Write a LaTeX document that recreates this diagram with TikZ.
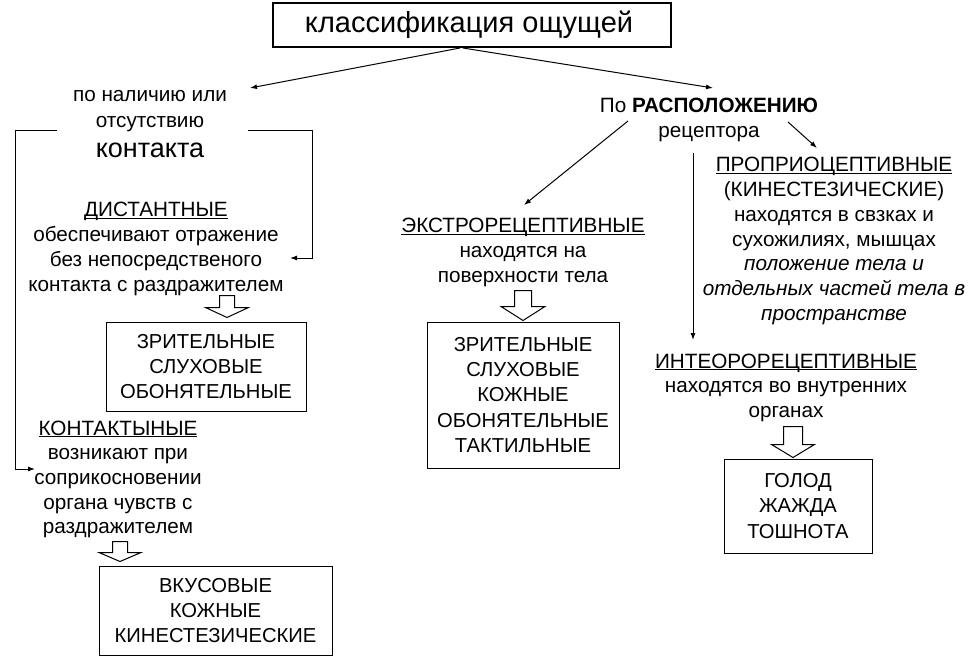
\documentclass[tikz,border=0pt]{standalone}
\usepackage{fontspec}
\setmainfont{Liberation Sans}
\usetikzlibrary{arrows.meta,calc}
\newcommand\ulin[1]{\setbox0\hbox{#1}\rlap{\rule[-2.3pt]{\wd0}{1pt}}\box0}
\newcommand\blk[1]{\begin{tabular}[t]{@{}c@{}}#1\end{tabular}}
\tikzset{
  txt/.style={font=\fontsize{20.7}{24.7}\selectfont, inner sep=0pt, anchor=base},
  boxed/.style={draw, line width=1pt, inner sep=0pt, align=center, font=\fontsize{20.2}{25.3}\selectfont},
  conn/.style={line width=1pt, -{Latex[length=7pt,width=5pt]}},
  pics/hollowarrow/.style n args={4}{code={
    \draw[line width=1pt, fill=white] (0,0) -- (-#4,-#2) -- (-#3,-#2) -- (-#3,-#2-#1)
      -- (#3,-#2-#1) -- (#3,-#2) -- (#4,-#2) -- cycle;
  }}
}
\begin{document}
\begin{tikzpicture}[x=1pt,y=-1pt]
\useasboundingbox[fill=white] (0,0) rectangle (970,658);
% title
\node[draw, line width=2pt, minimum width=398pt, minimum height=44pt, inner sep=0pt,
      font=\fontsize{29}{30}\selectfont] (title) at (472,25) {классификация ощущей\hspace*{6pt}};
% left branch
\node[txt] (contact) at (150,102) {\blk{по наличию или\\[1pt] отсутствию\\[5pt] {\fontsize{27}{30}\selectfont контакта}}};
\node[txt] (dist) at (156,217) {\blk{\ulin{ДИСТАНТНЫЕ}\\ обеспечивают отражение\\ без непосредственого\\ контакта с раздражителем}};
\node[boxed, minimum width=200pt, minimum height=89pt] (box1) at (206,366.5) {ЗРИТЕЛЬНЫЕ\\СЛУХОВЫЕ\\ОБОНЯТЕЛЬНЫЕ};
\node[txt] (kontakt) at (118,435) {\blk{\ulin{КОНТАКТЫНЫЕ}\\ возникают при\\ соприкосновении\\ органа чувств с\\ раздражителем}};
\node[boxed, minimum width=233pt, minimum height=89pt] (box2) at (215.5,610.5) {ВКУСОВЫЕ\\КОЖНЫЕ\\КИНЕСТЕЗИЧЕСКИЕ};
% right branch
\node[txt] (raspol) at (709,113) {\blk{По \textbf{РАСПОЛОЖЕНИЮ}\\ рецептора}};
\node[txt] (ekstro) at (523,233) {\blk{\ulin{ЭКСТРОРЕЦЕПТИВНЫЕ}\\ находятся на\\ поверхности тела}};
\node[boxed, minimum width=192pt, minimum height=146pt] (box3) at (523,395) {ЗРИТЕЛЬНЫЕ\\СЛУХОВЫЕ\\КОЖНЫЕ\\ОБОНЯТЕЛЬНЫЕ\\ТАКТИЛЬНЫЕ};
\node[txt] (proprio) at (834,172) {\blk{\ulin{ПРОПРИОЦЕПТИВНЫЕ}\\ (КИНЕСТЕЗИЧЕСКИЕ)\\ находятся в свзках и\\ сухожилиях, мышцах\\ \textit{положение тела и}\\ \textit{отдельных частей тела в}\\ \textit{пространстве}}};
\node[txt] (intero) at (786,368) {\blk{\ulin{ИНТЕОРОРЕЦЕПТИВНЫЕ}\\ находятся во внутренних\\ органах}};
\node[boxed, minimum width=148pt, minimum height=94pt] (box4) at (798,506) {ГОЛОД\\ЖАЖДА\\ТОШНОТА};
% connector ends
\coordinate (a1) at (250,88);
\coordinate (a2) at (713,88);
\coordinate (r1) at (628,121);
\coordinate (e1) at (524,205);
\coordinate (r2) at (788,122);
\coordinate (p1) at (817,148);
\coordinate (r3) at (693,153);
\coordinate (i1) at (693,340);
\coordinate (bl0) at (57,131);
\coordinate (bl1) at (15,469);
\coordinate (bl2) at (35,469);
\coordinate (br0) at (248,131);
\coordinate (br1) at (312,258);
\coordinate (br2) at (290,258);
% connectors
\draw[conn] ($(title.south)+(-12,0)$) -- (a1);
\draw[conn] ($(title.south)+(-9,0)$) -- (a2);
\draw[conn] (r1) -- (e1);
\draw[conn] (r2) -- (p1);
\draw[conn] (r3) -- (i1);
\draw[conn] (bl0) -| (bl1) -- (bl2);
\draw[conn] (br0) -| (br1) -- (br2);
% hollow arrows
\pic at ($(box1.north)+(21,-4)$) {hollowarrow={12}{10}{7.5}{21.5}};
\pic at ($(box2.north)+(-95.5,-4)$) {hollowarrow={11}{9}{7.5}{21}};
\pic at ($(box3.north)+(0,-1)$) {hollowarrow={16}{14}{8.5}{22}};
\pic at ($(box4.north)+(-5,-1)$) {hollowarrow={18}{13}{9.5}{21.5}};
\end{tikzpicture}
\end{document}
